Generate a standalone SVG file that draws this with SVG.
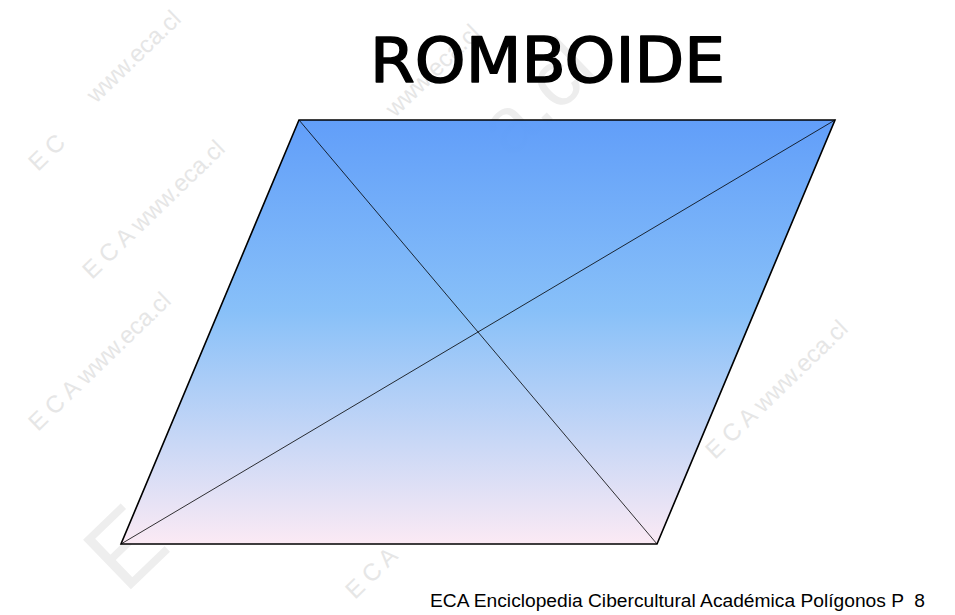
<svg xmlns="http://www.w3.org/2000/svg" width="955" height="615" viewBox="0 0 955 615">
<style>
.wm{font-family:"Liberation Sans",Arial,sans-serif;font-size:24px;fill:#e6e6e6}
.edge{stroke:#000;stroke-width:1.6;fill:none}
.diag{stroke:#000;stroke-width:0.8;fill:none}
</style>
<defs>
<linearGradient id="g" x1="0" y1="0" x2="0" y2="1">
<stop offset="0" stop-color="#5c9bf9"/>
<stop offset="0.45" stop-color="#84bef8"/>
<stop offset="1" stop-color="#fbe9f4"/>
</linearGradient>
</defs>
<rect width="955" height="615" fill="#fff"/>
<g id="watermarks">
<text class="wm" transform="translate(38,172) rotate(-44)">E C</text>
<text class="wm" transform="translate(96,104) rotate(-44)">www.eca.cl</text>
<text class="wm" transform="translate(92,280) rotate(-44)">E C A www.eca.cl</text>
<text class="wm" transform="translate(38,432) rotate(-44)">E C A www.eca.cl</text>
<text class="wm" transform="translate(715,460) rotate(-44)">E C A www.eca.cl</text>
<text class="wm" transform="translate(395,118) rotate(-44)">www.eca.cl</text>
<text class="wm" transform="translate(355,600) rotate(-44)">E C A</text>
<text style="font-family:'Liberation Sans',Arial,sans-serif;font-size:80px;fill:#ededed" transform="translate(510,160) rotate(-44)">a.cl</text>
<text style="font-family:'Liberation Sans',Arial,sans-serif;font-size:100px;fill:#eeeeee" transform="translate(125,595) rotate(-44)">E</text>
</g>
<g id="romboide">
<polygon points="299,120 835,120 657,544 121,544" fill="url(#g)" fill-opacity="0.97"/>
<polygon class="edge" points="299,120 835,120 657,544 121,544"/>
</g>
<g id="connectors">
<line class="diag" x1="299" y1="120" x2="657" y2="544"/>
<line class="diag" x1="835" y1="120" x2="121" y2="544"/>
</g>
<g id="title">
<text x="370" y="82" textLength="355" lengthAdjust="spacingAndGlyphs" style="font-family:'Comic Sans MS','DejaVu Sans',sans-serif;font-size:62px;fill:#000;stroke:#000;stroke-width:1.5;stroke-linejoin:round">ROMBOIDE</text>
</g>
<g id="footer">
<text x="430" y="607" textLength="495" lengthAdjust="spacingAndGlyphs" style="font-family:'Liberation Sans',Arial,sans-serif;font-size:17.5px;fill:#000" xml:space="preserve">ECA Enciclopedia Cibercultural Académica Polígonos P  8</text>
</g>
</svg>
